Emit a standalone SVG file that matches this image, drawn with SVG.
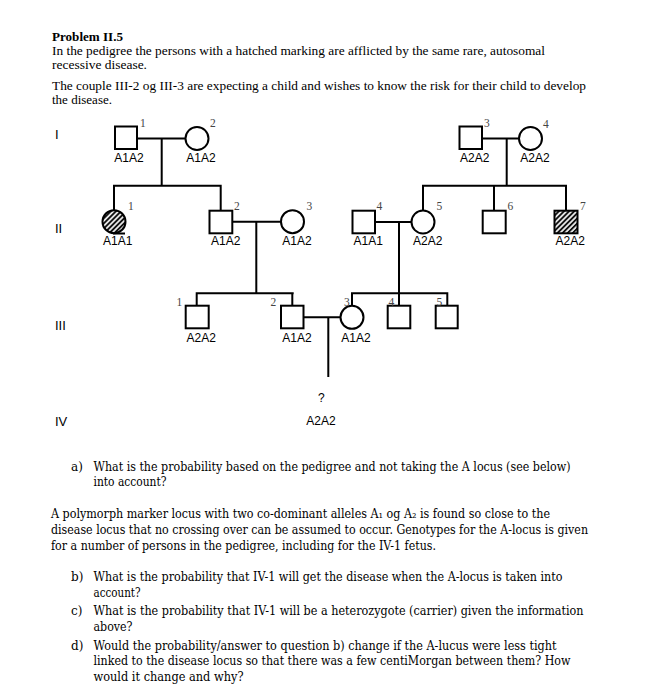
<svg xmlns="http://www.w3.org/2000/svg" width="664" height="697" viewBox="0 0 664 697">
<defs>
<pattern id="hatch" width="3.6" height="3.6" patternUnits="userSpaceOnUse" patternTransform="rotate(45)">
<rect width="3.6" height="3.6" fill="#fff"/>
<rect width="2" height="3.6" fill="#111"/>
</pattern>
</defs>
<style>
.sq{fill:#fff;stroke:#000;stroke-width:2}
.ci{fill:#fff;stroke:#000;stroke-width:2}
.aff{fill:url(#hatch)}
.ln{stroke:#000;stroke-width:2;fill:none}
.gt{font-family:"Liberation Sans",Arial,sans-serif;font-size:12px;fill:#000;text-anchor:middle}
.num{font-family:"Liberation Serif","Times New Roman",serif;font-size:11.5px;fill:#444}
.gen{font-family:"Liberation Sans",Arial,sans-serif;font-size:13px;fill:#000}
.hd{font-family:"Liberation Serif","Times New Roman",serif;font-size:13.5px;fill:#000}
.q{font-family:"DejaVu Serif","Liberation Serif",serif;font-size:12px;fill:#000}
</style>
<rect width="664" height="697" fill="#fff"/>

<g id="header">
<text class="hd" x="52" y="41" font-weight="bold" textLength="71" lengthAdjust="spacingAndGlyphs">Problem II.5</text>
<text class="hd" x="52" y="55" textLength="493" lengthAdjust="spacingAndGlyphs">In the pedigree the persons with a hatched marking are afflicted by the same rare, autosomal</text>
<text class="hd" x="52" y="69" textLength="95" lengthAdjust="spacingAndGlyphs">recessive disease.</text>
<text class="hd" x="52" y="90" textLength="534" lengthAdjust="spacingAndGlyphs">The couple III-2 og III-3 are expecting a child and wishes to know the risk for their child to develop</text>
<text class="hd" x="52" y="104" textLength="60" lengthAdjust="spacingAndGlyphs">the disease.</text>
</g>

<g id="generations">
<text class="gen" x="55" y="139">I</text>
<text class="gen" x="55" y="233">II</text>
<text class="gen" x="55" y="330">III</text>
<text class="gen" x="55" y="426">IV</text>
</g>

<g id="connectors">
<path class="ln" d="M137,138.5H185.5M161.7,138.5V185.7M113,185.7H221.7M114,185.7V210.2M220.7,185.7V210.7"/>
<path class="ln" d="M482,138.5H519M506.7,138.5V185.7M422,185.7H567M423,185.7V210.5M494,185.7V210.7M566,185.7V210.7"/>
<path class="ln" d="M232.3,221.7H281M256.3,221.7V293.3M195.7,293.3H293.7M196.7,293.3V305.7M292.3,293.3V305.7"/>
<path class="ln" d="M375,222H411.5M399,222V293.3M351,293.3H448.3M352,293.3V305.8M399,293.3V305.7M447.3,293.3V305.7"/>
<path class="ln" d="M303.5,317.3H340.5M328.3,317.3V377"/>
</g>

<g id="I-1"><rect class="sq" x="115" y="126.5" width="22" height="22.5"/><text class="num" x="140" y="127">1</text><text class="gt" x="129" y="161.7">A1A2</text></g>
<g id="I-2"><circle class="ci" cx="197" cy="138.5" r="11.5"/><text class="num" x="210" y="127">2</text><text class="gt" x="201" y="161.7">A1A2</text></g>
<g id="I-3"><rect class="sq" x="459.5" y="126.5" width="22.5" height="22.5"/><text class="num" x="484" y="127">3</text><text class="gt" x="474.7" y="161.7">A2A2</text></g>
<g id="I-4"><circle class="ci" cx="530.5" cy="138.5" r="11.5"/><text class="num" x="543" y="128.3">4</text><text class="gt" x="535" y="161.7">A2A2</text></g>

<g id="II-1"><circle class="ci aff" cx="114" cy="221.7" r="11.5"/><path class="ln" d="M113,233.5H125" stroke-width="1.6"/><text class="num" x="128" y="210">1</text><text class="gt" x="117.7" y="245">A1A1</text></g>
<g id="II-2"><rect class="sq" x="209.5" y="210.7" width="22.8" height="22.6"/><text class="num" x="234" y="210">2</text><text class="gt" x="225.7" y="245">A1A2</text></g>
<g id="II-3"><circle class="ci" cx="292.5" cy="221.7" r="11.5"/><text class="num" x="306.5" y="209.5">3</text><text class="gt" x="297" y="245">A1A2</text></g>
<g id="II-4"><rect class="sq" x="352.5" y="210.7" width="22.5" height="22.6"/><text class="num" x="376.5" y="210">4</text><text class="gt" x="368.3" y="245">A1A1</text></g>
<g id="II-5"><circle class="ci" cx="423" cy="222" r="11.5"/><text class="num" x="436.5" y="209.5">5</text><text class="gt" x="427.7" y="245">A2A2</text></g>
<g id="II-6"><rect class="sq" x="482.7" y="210.7" width="23" height="22.6"/><text class="num" x="507.5" y="210">6</text></g>
<g id="II-7"><rect class="sq aff" x="554.5" y="210.7" width="23" height="22.6"/><text class="num" x="580" y="210" font-family="Liberation Sans,sans-serif">7</text><text class="gt" x="570.3" y="245">A2A2</text></g>

<g id="III-1"><rect class="sq" x="185.7" y="305.7" width="23" height="22.6"/><text class="num" x="176.5" y="306">1</text><text class="gt" x="201.3" y="341.7">A2A2</text></g>
<g id="III-2"><rect class="sq" x="281" y="305.7" width="22.5" height="22.6"/><text class="num" x="270.5" y="306">2</text><text class="gt" x="297" y="341.7">A1A2</text></g>
<g id="III-3"><circle class="ci" cx="352" cy="317.3" r="11.5"/><text class="num" x="344" y="306">3</text><text class="gt" x="356" y="341.7">A1A2</text></g>
<g id="III-4"><rect class="sq" x="387.7" y="305.7" width="22.6" height="22.6"/><text class="num" x="388.5" y="306">4</text></g>
<g id="III-5"><rect class="sq" x="435.7" y="305.7" width="22" height="22.6"/><text class="num" x="436.5" y="306">5</text></g>

<g id="IV-1"><text class="gt" x="321.3" y="401.5">?</text><text class="gt" x="321" y="425" font-size="11.5">A2A2</text></g>

<g id="questions">
<text class="q" x="71" y="471">a)</text>
<text class="q" x="93.5" y="471" textLength="477" lengthAdjust="spacingAndGlyphs">What is the probability based on the pedigree and not taking the A locus (see below)</text>
<text class="q" x="93.5" y="486" textLength="73" lengthAdjust="spacingAndGlyphs">into account?</text>
<text class="q" x="51" y="518" textLength="499" lengthAdjust="spacingAndGlyphs">A polymorph marker locus with two co-dominant alleles A₁ og A₂ is found so close to the</text>
<text class="q" x="51" y="534" textLength="537" lengthAdjust="spacingAndGlyphs">disease locus that no crossing over can be assumed to occur. Genotypes for the A-locus is given</text>
<text class="q" x="51" y="550" textLength="385" lengthAdjust="spacingAndGlyphs">for a number of persons in the pedigree, including for the IV-1 fetus.</text>
<text class="q" x="71" y="581">b)</text>
<text class="q" x="93.5" y="581" textLength="469" lengthAdjust="spacingAndGlyphs">What is the probability that IV-1 will get the disease when the A-locus is taken into</text>
<text class="q" x="93.5" y="597" textLength="47" lengthAdjust="spacingAndGlyphs">account?</text>
<text class="q" x="71" y="615">c)</text>
<text class="q" x="93.5" y="615" textLength="490" lengthAdjust="spacingAndGlyphs">What is the probability that IV-1 will be a heterozygote (carrier) given the information</text>
<text class="q" x="93.5" y="631" textLength="39" lengthAdjust="spacingAndGlyphs">above?</text>
<text class="q" x="71" y="650">d)</text>
<text class="q" x="93.5" y="650" textLength="463" lengthAdjust="spacingAndGlyphs">Would the probability/answer to question b) change if the A-lucus were less tight</text>
<text class="q" x="93.5" y="665" textLength="477" lengthAdjust="spacingAndGlyphs">linked to the disease locus so that there was a few centiMorgan between them? How</text>
<text class="q" x="93.5" y="681" textLength="150" lengthAdjust="spacingAndGlyphs">would it change and why?</text>
</g>
</svg>
